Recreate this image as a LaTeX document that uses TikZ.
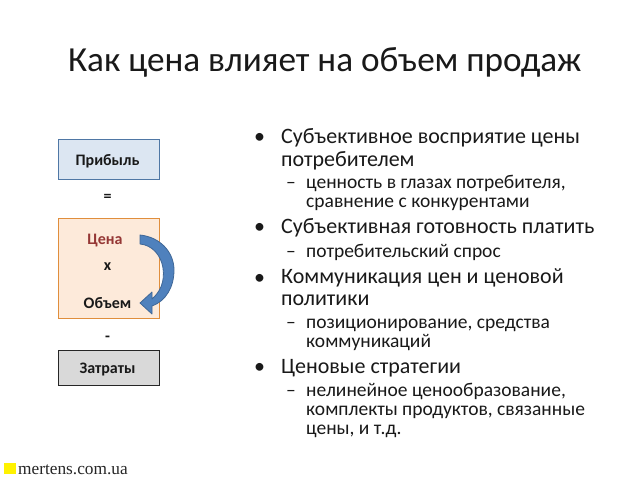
\documentclass[tikz,border=0pt]{standalone}
\usepackage{fontspec}
\setmainfont{Carlito}
\newfontfamily\wmfont{Liberation Serif}
\definecolor{bluefill}{HTML}{DCE6F2}
\definecolor{blueline}{HTML}{4F77A5}
\definecolor{orangefill}{HTML}{FDEADA}
\definecolor{orangeline}{HTML}{E08E3C}
\definecolor{grayfill}{HTML}{D9D9D9}
\definecolor{priceRed}{HTML}{953735}
\definecolor{arrowblue}{HTML}{4F81BD}
\definecolor{arrowline}{HTML}{3F6797}
\tikzset{
 x=1pt,y=-1pt,
 boxstyle/.style={draw=#1,line width=1.4pt,minimum width=101pt,anchor=north west,inner sep=0pt},
 lbl/.style={font=\fontsize{16}{18}\selectfont\bfseries,text=black!90,inner sep=0pt,anchor=base},
 main/.style={font=\fontsize{22}{24}\selectfont,anchor=base west,inner sep=0pt,text=black!90},
 sub/.style={font=\fontsize{19.5}{21}\selectfont,anchor=base west,inner sep=0pt,text=black!90},
}
\begin{document}
\begin{tikzpicture}
\useasboundingbox (0,0) rectangle (638,479);
\fill[white] (0,0) rectangle (638,479);
\node[anchor=base west,inner sep=0pt,font=\fontsize{35.2}{38}\selectfont,text=black!90] (title) at (68,71.5) {Как цена влияет на объем продаж};
\node[boxstyle=blueline,fill=bluefill,minimum height=40pt] (profit) at (57.5,139) {};
\node[boxstyle=orangeline,fill=orangefill,minimum height=100.5pt] (mid) at (57.5,217.5) {};
\node[boxstyle=black!85,fill=grayfill,minimum height=35pt] (cost) at (57.5,350) {};
\node[lbl] (profitT) at (107.5,165) {Прибыль};
\node[lbl] (eq) at (107.5,201.5) {=};
\node[lbl,text=priceRed] (price) at (105,244) {Цена};
\node[lbl] (times) at (107.5,270) {х};
\node[lbl] (vol) at (107.5,308) {Объем};
\node[lbl] (minus) at (107.5,341) {-};
\node[lbl] (costT) at (107.5,373) {Затраты};
\draw[arrowline,fill=arrowblue,line width=.8pt,line join=round]
 (140,235) .. controls (160,237) and (174,252) .. (174,270)
 .. controls (174,287) and (166,301) .. (152,306)
 -- (152,314) -- (140,303) -- (152,292) -- (152,299)
 .. controls (160,292) and (165,282) .. (163,268)
 .. controls (161,255) and (152,245) .. (140,244) -- cycle;
\foreach \n/\y in {a/143,c/233,e/284,g/373}
 \node[main,anchor=base west] (b\n) at (254,\y) {•};
\node[main] (m1) at (281,143) {Субъективное восприятие цены};
\node[main] (m2) at (281,166) {потребителем};
\node[sub] (s1) at (306,188) {ценность в глазах потребителя,};
\node[sub] (s2) at (306,207) {сравнение с конкурентами};
\node[main] (m3) at (281,233) {Субъективная готовность платить};
\node[sub] (s3) at (306,257) {потребительский спрос};
\node[main] (m4) at (281,283) {Коммуникация цен и ценовой};
\node[main] (m5) at (281,305) {политики};
\node[sub] (s4) at (306,328) {позиционирование, средства};
\node[sub] (s5) at (306,347) {коммуникаций};
\node[main] (m6) at (281,373) {Ценовые стратегии};
\node[sub] (s6) at (306,396) {нелинейное ценообразование,};
\node[sub] (s7) at (306,415) {комплекты продуктов, связанные};
\node[sub] (s8) at (306,434) {цены, и т.д.};
\foreach \n/\y in {1/188,2/257,3/328,4/396}
 \node[sub] (d\n) at (286,\y) {–};
\fill[yellow] (4,463) rectangle (16,474);
\node[anchor=base west,inner sep=0pt,font=\wmfont\fontsize{17.3}{20}\selectfont,text=black!85] (wm) at (18,474) {mertens.com.ua};
\end{tikzpicture}
\end{document}
